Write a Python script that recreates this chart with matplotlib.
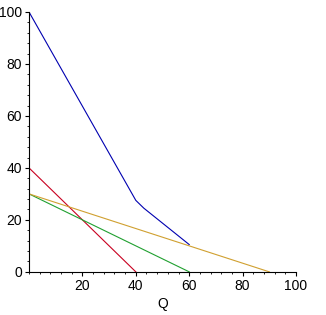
import matplotlib
matplotlib.use("Agg")
from matplotlib import pyplot as plt
from matplotlib.ticker import MultipleLocator

plt.rcParams['font.family'] = ['Liberation Sans', 'DejaVu Sans']

# curves
blue_q = [0, 40, 43, 60]
blue_p = [100, 27.5, 24.5, 10.5]
red_q = [0, 40]
red_p = [40, 0]
green_q = [0, 60]
green_p = [30, 0]
orange_q = [0, 90]
orange_p = [30, 0]

x_ticks = [20, 40, 60, 80, 100]
y_ticks = [0, 20, 40, 60, 80, 100]

fig = plt.figure(figsize=(3.26, 3.15), dpi=100)
ax = fig.add_axes([0.089, 0.137, 0.819, 0.825])

ax.plot(blue_q, blue_p, color="#0000b0", lw=0.8)
ax.plot(red_q, red_p, color="#c80020", lw=0.8)
ax.plot(green_q, green_p, color="#20a030", lw=0.8)
ax.plot(orange_q, orange_p, color="#d0a030", lw=0.8)

ax.set_xlim(0, 100)
ax.set_ylim(0, 100)
ax.set_xticks(x_ticks)
ax.set_yticks(y_ticks)
ax.xaxis.set_minor_locator(MultipleLocator(4))
ax.yaxis.set_minor_locator(MultipleLocator(4))
ax.tick_params(which='major', length=3, width=0.8, labelsize=10, pad=2)
ax.tick_params(which='minor', length=1.5, width=0.6)

for side in ['top', 'right']:
    ax.spines[side].set_visible(False)
for side in ['left', 'bottom']:
    ax.spines[side].set_linewidth(0.8)

ax.set_xlabel("Q", fontsize=10, labelpad=3)

fig.savefig("out.png", dpi=100)
